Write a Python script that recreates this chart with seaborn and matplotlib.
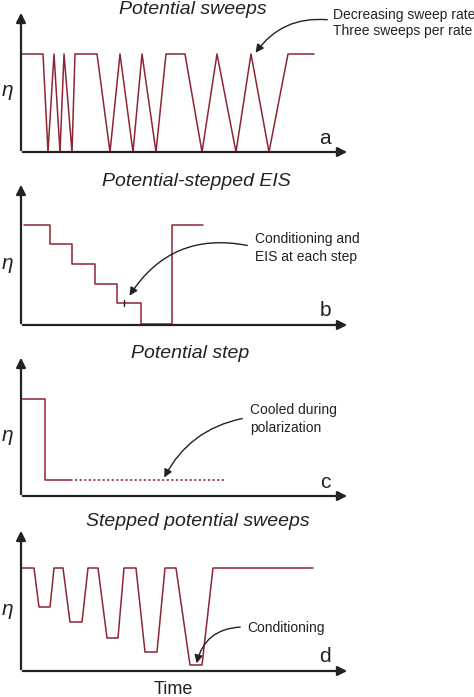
import matplotlib
matplotlib.use("Agg")
import matplotlib.pyplot as plt
import seaborn as sns
import pandas as pd

sns.set_theme(style="white")
plt.rcParams['font.family'] = ['Liberation Sans', 'DejaVu Sans']

RED = "#8e2533"
# Waveforms (pixel-space coordinates of the schematic)
a_x = [21, 43, 48, 54, 60, 64, 72, 75, 97, 110, 120, 133, 142, 156, 166, 185, 202, 217, 236, 251, 269, 288, 314]
a_y = [54, 54, 152, 54, 152, 54, 152, 54, 54, 152, 54, 152, 54, 152, 54, 54, 152, 54, 152, 54, 152, 54, 54]
b_x = [24, 50, 50, 72, 72, 95, 95, 117, 117, 141, 141, 172, 172, 203]
b_y = [225, 225, 244, 244, 264, 264, 284, 284, 303, 303, 324, 324, 225, 225]
c_x = [21, 45, 45, 72]
c_y = [399, 399, 480, 480]
c_dot_x = [75, 225]
c_dot_y = [480, 480]
d_x = [21, 34, 39, 50, 54, 63, 70, 82, 88, 98, 107, 118, 124, 136, 145, 157, 165, 176, 190, 202, 213, 313]
d_y = [568, 568, 607, 607, 568, 568, 622, 622, 568, 568, 638, 638, 568, 568, 652, 652, 568, 568, 665, 665, 568, 568]

titles = ["Potential sweeps", "Potential-stepped EIS", "Potential step", "Stepped potential sweeps"]
title_pos = [(193, 10), (196, 182), (190, 353), (198, 522)]
letters = ["a", "b", "c", "d"]
origins = [152, 325, 496, 671]
tops = [10, 182, 355, 528]

fig = plt.figure(figsize=(4.74, 6.97), dpi=100)
ax = fig.add_axes([0, 0, 1, 1])

for xs, ys in [(a_x, a_y), (b_x, b_y), (c_x, c_y), (d_x, d_y)]:
    sns.lineplot(data=pd.DataFrame({"x": xs, "y": ys}), x="x", y="y", sort=False,
                 ax=ax, color=RED, lw=1.1, estimator=None)
sns.lineplot(data=pd.DataFrame({"x": c_dot_x, "y": c_dot_y}), x="x", y="y", ax=ax,
             color=RED, lw=1.1, linestyle=(0, (1.5, 1.5)), estimator=None)
ax.set_xlim(0, 474); ax.set_ylim(697, 0); ax.axis("off")

for oy, top, t, tp, let in zip(origins, tops, titles, title_pos, letters):
    ax.annotate("", xy=(350, oy), xytext=(20, oy),
                arrowprops=dict(arrowstyle="-|>", color="#222", lw=1.6, mutation_scale=14))
    ax.annotate("", xy=(21, top), xytext=(21, oy + 1),
                arrowprops=dict(arrowstyle="-|>", color="#222", lw=1.6, mutation_scale=14))
    ax.text(tp[0], tp[1], t, fontsize=14, style="italic", ha="center", va="center", color="#222")
    ax.text(325, oy - 14, let, fontsize=15, ha="center", va="center", color="#222")
    ax.text(7, (oy + top) / 2 + 10, "η", fontsize=15, ha="center", va="center", color="#222", style="italic")

ax.plot([124, 124], [300, 306], color="#222", lw=1)

fs = 10
ax.text(333, 23, "Decreasing sweep rate\nThree sweeps per rate", fontsize=fs, va="center", color="#222", linespacing=1.1)
ax.annotate("", xy=(254, 55), xytext=(330, 20),
            arrowprops=dict(arrowstyle="-|>", color="#222", lw=1, connectionstyle="arc3,rad=0.3"))
ax.text(255, 248, "Conditioning and\nEIS at each step", fontsize=fs, va="center", color="#222", linespacing=1.3)
ax.annotate("", xy=(128, 298), xytext=(250, 246),
            arrowprops=dict(arrowstyle="-|>", color="#222", lw=1, connectionstyle="arc3,rad=0.35"))
ax.text(250, 419, "Cooled during\npolarization", fontsize=fs, va="center", color="#222", linespacing=1.3)
ax.annotate("", xy=(163, 480), xytext=(245, 418),
            arrowprops=dict(arrowstyle="-|>", color="#222", lw=1, connectionstyle="arc3,rad=0.25"))
ax.text(247, 628, "Conditioning", fontsize=fs, va="center", color="#222")
ax.annotate("", xy=(196, 666), xytext=(243, 627),
            arrowprops=dict(arrowstyle="-|>", color="#222", lw=1, connectionstyle="arc3,rad=0.4"))
ax.text(173, 689, "Time", fontsize=13, ha="center", va="center", color="#222")

fig.savefig("out.png", dpi=100)
